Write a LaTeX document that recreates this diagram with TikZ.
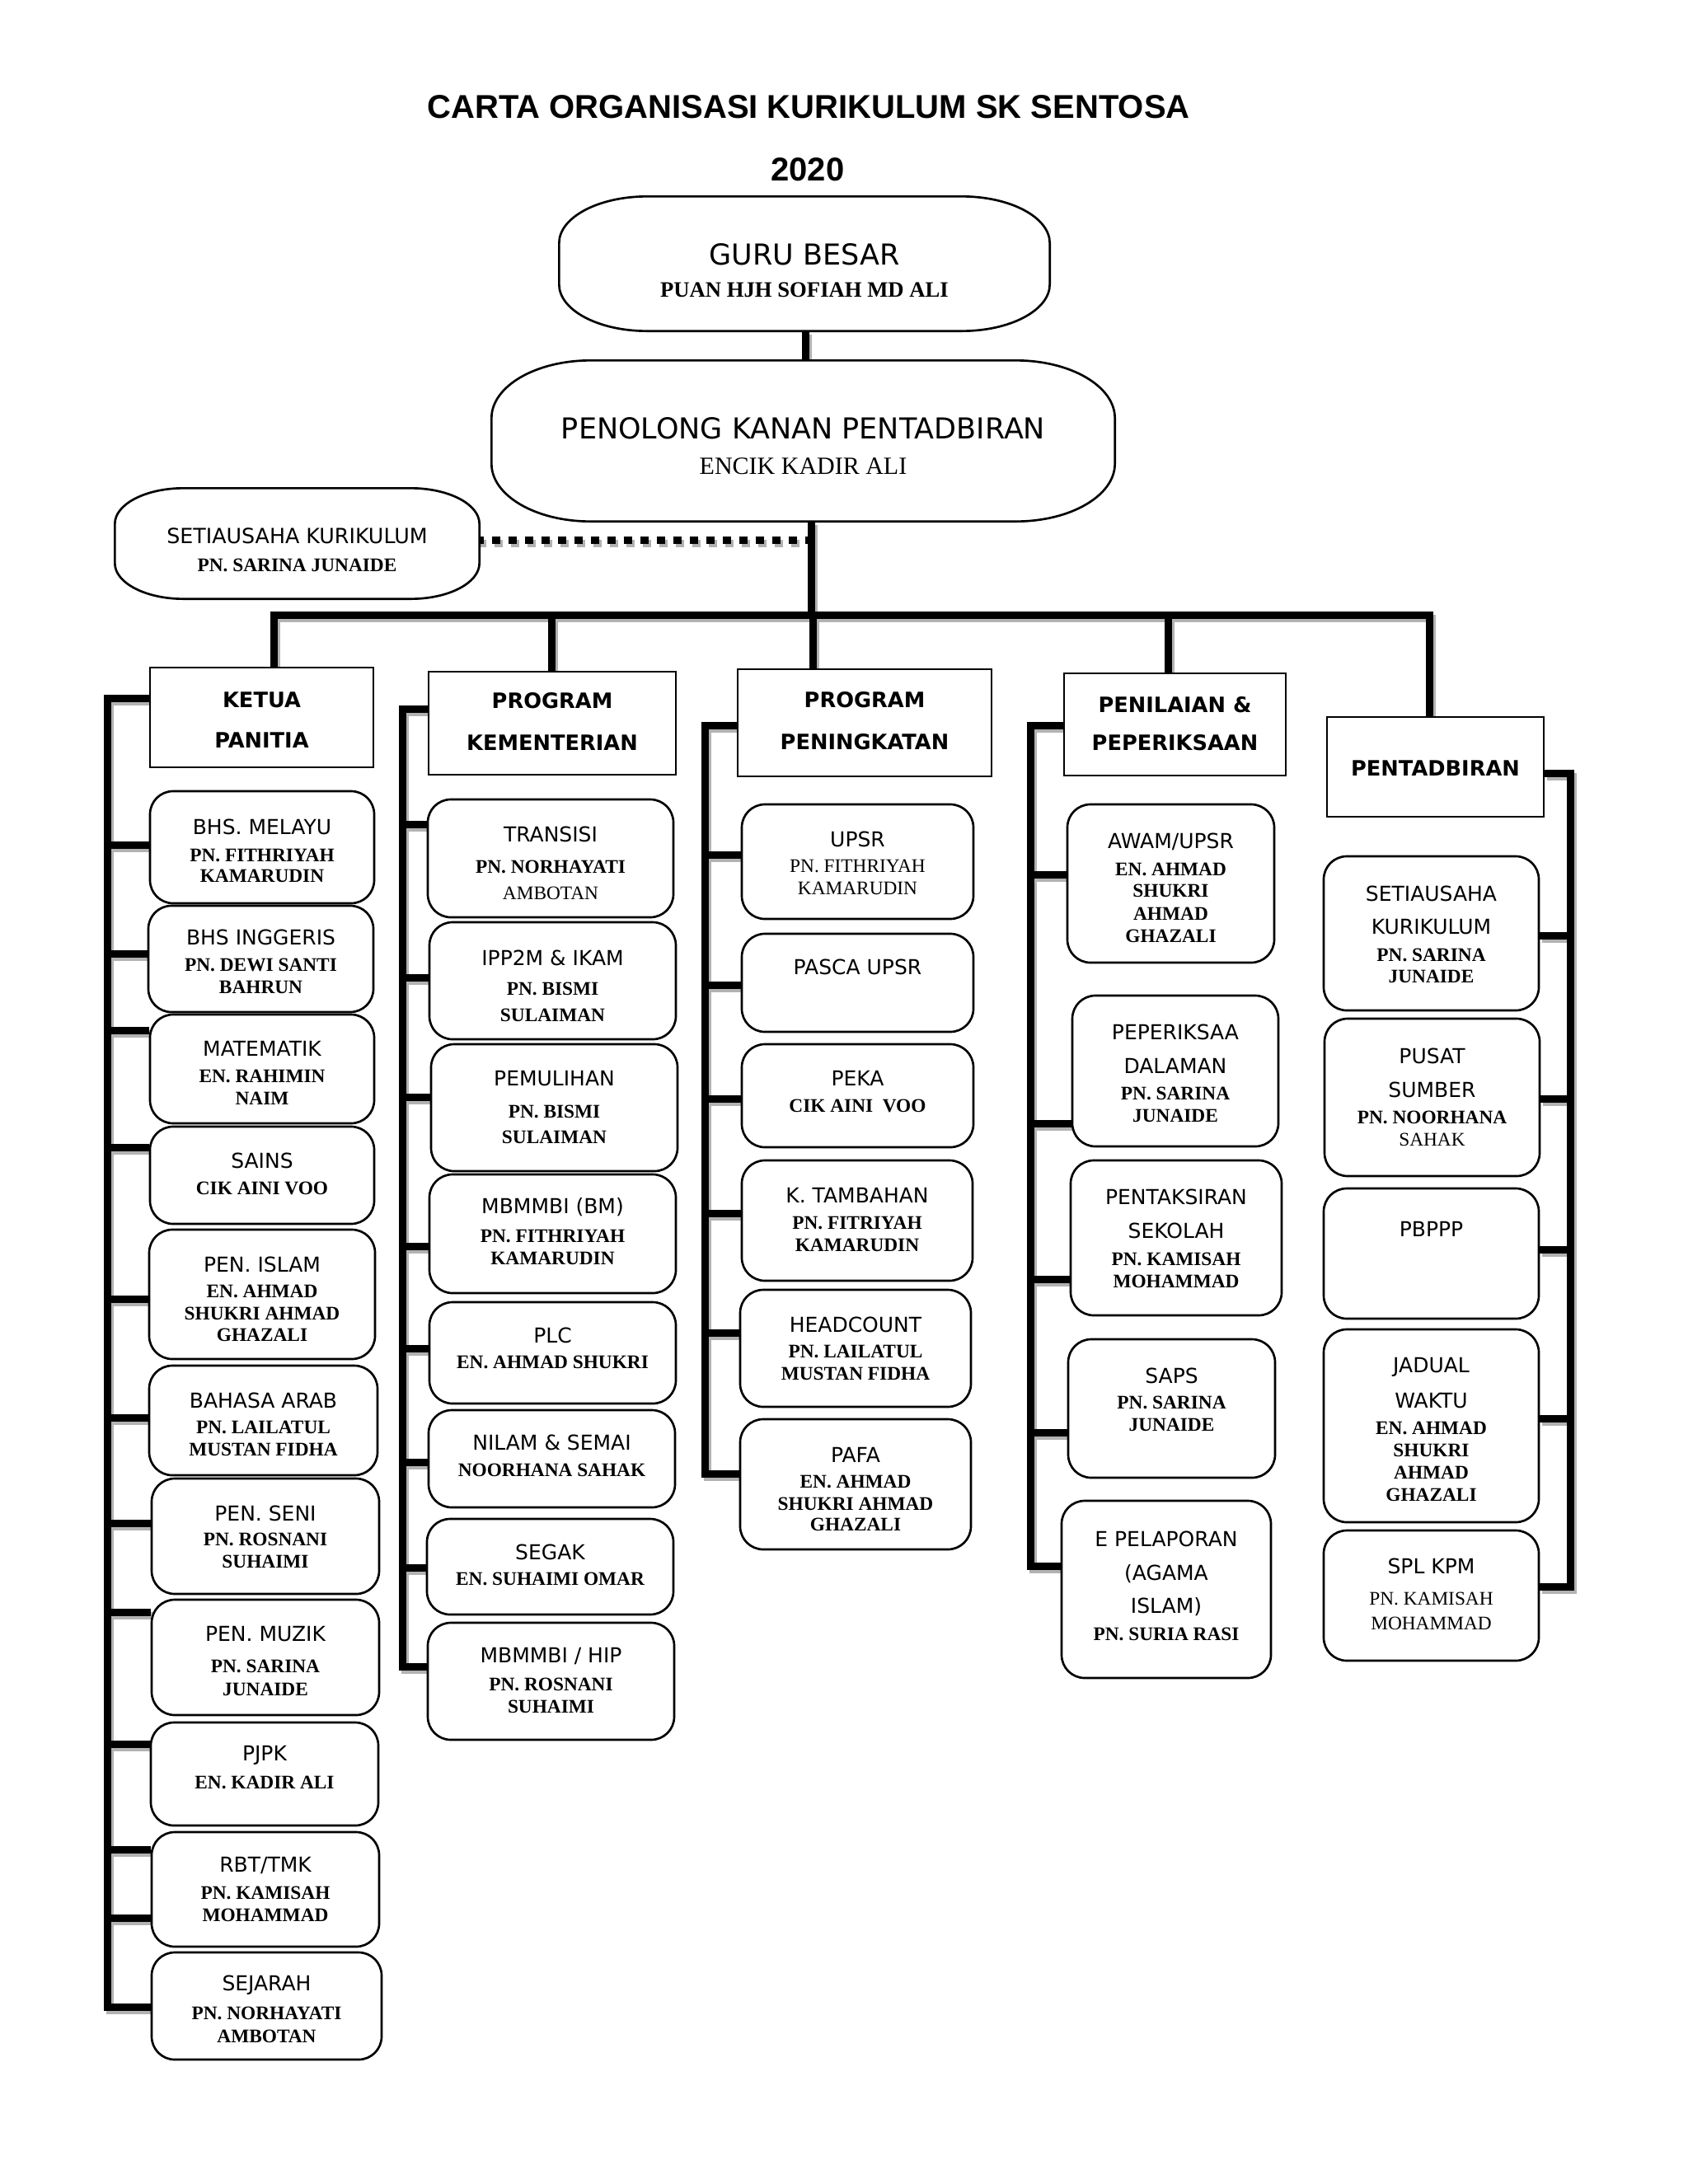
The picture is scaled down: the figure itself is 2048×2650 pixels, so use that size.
\documentclass[tikz,border=0pt]{standalone}
\usepackage{fontspec}
\setmainfont{Liberation Serif}
\newfontfamily\arialf{Liberation Sans}
\newfontfamily\comicf{DejaVu Sans}
\usetikzlibrary{fit}
\pgfdeclarelayer{shadowlayer}
\pgfdeclarelayer{linelayer}
\pgfsetlayers{shadowlayer,linelayer,main}
\tikzset{
 ttl/.style={font=\arialf\bfseries\fontsize{12}{14}\selectfont, inner sep=0pt},
 hdt/.style={font=\comicf\bfseries\fontsize{7.7}{9}\selectfont, inner sep=0pt},
 itt/.style={font=\comicf\fontsize{7.5}{9}\selectfont, inner sep=0pt},
 sut/.style={font=\comicf\fontsize{7.6}{9}\selectfont, inner sep=0pt},
 bigt/.style={font=\comicf\fontsize{10.5}{12}\selectfont, inner sep=0pt},
 nmb/.style={font=\bfseries\fontsize{7}{8}\selectfont, inner sep=0pt},
 nmbig/.style={font=\bfseries\fontsize{8}{9}\selectfont, inner sep=0pt},
 nmr/.style={font=\fontsize{7}{8}\selectfont, inner sep=0pt},
 nmrbig/.style={font=\fontsize{9}{10}\selectfont, inner sep=0pt},
 ibox/.style={draw, line width=0.8pt, rounded corners=8.4pt, fill=white, inner sep=0pt},
 hbox/.style={draw, line width=0.6pt, fill=white, inner sep=0pt},
 ebst/.style={draw, line width=0.8pt, fill=white},
 conn/.style={line width=2.7pt, black, line join=miter},
 shad/.style={line width=2.7pt, black!30, line join=miter, transform canvas={shift={(0.9pt,-1.4pt)}}},
 dotc/.style={dash pattern=on 3pt off 3pt},
}
\newcommand\cdraw[2][]{%
 \begin{pgfonlayer}{shadowlayer}\draw[shad,#1] #2;\end{pgfonlayer}%
 \begin{pgfonlayer}{linelayer}\draw[conn,#1] #2;\end{pgfonlayer}}
\newcommand\ibx[5]{\node[ibox, fit={(#2,#3) (#4,#5)}] (#1) {};}
\newcommand\hbx[5]{\node[hbox, fit={(#2,#3) (#4,#5)}] (#1) {};}
\newcounter{tn}
\newcommand\tx[4]{\stepcounter{tn}\node[#1] (tx\arabic{tn}) at (#2.center |- 0,#3) {#4};}
\newcommand\stub[3]{\cdraw{(#1 |- 0,#3) -- (#2.west |- 0,#3)}}
\newcommand\stubr[3]{\cdraw{(#1 |- 0,#3) -- (#2.east |- 0,#3)}}
\newcommand\ebx[7]{%
 \node[inner sep=0pt, fit={(#2,#3) (#4,#5)}] (#1) {};
 \draw[ebst] ([xshift=#6]#1.north west) -- ([xshift=-#6]#1.north east)
   arc[start angle=90,end angle=0,x radius=#6,y radius=#7]
   -- ([yshift=#7]#1.south east)
   arc[start angle=0,end angle=-90,x radius=#6,y radius=#7]
   -- ([xshift=#6]#1.south west)
   arc[start angle=270,end angle=180,x radius=#6,y radius=#7]
   -- ([yshift=-#7]#1.north west)
   arc[start angle=180,end angle=90,x radius=#6,y radius=#7] -- cycle;}
\begin{document}
\begin{tikzpicture}[x=0.3pt,y=-0.3pt]
\begin{pgfonlayer}{shadowlayer}\fill[white] (0,0) rectangle (2048,2650);\end{pgfonlayer}
\useasboundingbox (0,0) rectangle (2048,2650);

\node[ttl] (title) at (981,130) {CARTA ORGANISASI KURIKULUM SK SENTOSA};
\node[ttl] (year) at (980,206) {2020};

% top boxes
\ebx{GB}{679}{239}{1273}{401}{32pt}{17pt}
\tx{bigt}{GB}{309}{GURU BESAR}
\tx{nmbig}{GB}{352}{PUAN HJH SOFIAH MD ALI}
\ebx{PKP}{597}{438}{1352}{632}{36pt}{21pt}
\tx{bigt}{PKP}{520}{PENOLONG KANAN PENTADBIRAN}
\tx{nmrbig}{PKP}{566}{ENCIK KADIR ALI}
\ebx{SU}{140}{593}{581}{726}{25pt}{13pt}
\tx{sut}{SU}{650}{SETIAUSAHA KURIKULUM}
\tx{nmb}{SU}{686}{PN. SARINA JUNAIDE}

% headers
\hbx{H1}{182}{810}{453}{931}
\tx{hdt}{H1}{849}{KETUA}
\tx{hdt}{H1}{898}{PANITIA}
\hbx{H2}{520}{815}{820}{940}
\tx{hdt}{H2}{850}{PROGRAM}
\tx{hdt}{H2}{901}{KEMENTERIAN}
\hbx{H3}{895}{812}{1203}{942}
\tx{hdt}{H3}{849}{PROGRAM}
\tx{hdt}{H3}{900}{PENINGKATAN}
\hbx{H4}{1291}{817}{1560}{941}
\tx{hdt}{H4}{855}{PENILAIAN \&}
\tx{hdt}{H4}{901}{PEPERIKSAAN}
\hbx{H5}{1610}{870}{1873}{991}
\tx{hdt}{H5}{932}{PENTADBIRAN}

% column 1
\ibx{BM}{182}{960}{454}{1096}
\tx{itt}{BM}{1003}{BHS. MELAYU}
\tx{nmb}{BM}{1038}{PN. FITHRIYAH}
\tx{nmb}{BM}{1063}{KAMARUDIN}
\ibx{BI}{180}{1099}{453}{1228}
\tx{itt}{BI}{1137}{BHS INGGERIS}
\tx{nmb}{BI}{1171}{PN. DEWI SANTI}
\tx{nmb}{BI}{1198}{BAHRUN}
\ibx{MAT}{182}{1231}{454}{1363}
\tx{itt}{MAT}{1272}{MATEMATIK}
\tx{nmb}{MAT}{1306}{EN. RAHIMIN}
\tx{nmb}{MAT}{1333}{NAIM}
\ibx{SAI}{182}{1367}{454}{1485}
\tx{itt}{SAI}{1408}{SAINS}
\tx{nmb}{SAI}{1442}{CIK AINI VOO}
\ibx{PI}{181}{1492}{455}{1649}
\tx{itt}{PI}{1534}{PEN. ISLAM}
\tx{nmb}{PI}{1567}{EN. AHMAD}
\tx{nmb}{PI}{1594}{SHUKRI AHMAD}
\tx{nmb}{PI}{1620}{GHAZALI}
\ibx{BA}{181}{1657}{458}{1790}
\tx{itt}{BA}{1699}{BAHASA ARAB}
\tx{nmb}{BA}{1732}{PN. LAILATUL}
\tx{nmb}{BA}{1759}{MUSTAN FIDHA}
\ibx{PS}{184}{1794}{460}{1934}
\tx{itt}{PS}{1836}{PEN. SENI}
\tx{nmb}{PS}{1868}{PN. ROSNANI}
\tx{nmb}{PS}{1895}{SUHAIMI}
\ibx{PM}{184}{1941}{460}{2081}
\tx{itt}{PM}{1983}{PEN. MUZIK}
\tx{nmb}{PM}{2022}{PN. SARINA}
\tx{nmb}{PM}{2050}{JUNAIDE}
\ibx{PJ}{183}{2090}{459}{2215}
\tx{itt}{PJ}{2130}{PJPK}
\tx{nmb}{PJ}{2163}{EN. KADIR ALI}
\ibx{RBT}{184}{2223}{460}{2362}
\tx{itt}{RBT}{2264}{RBT/TMK}
\tx{nmb}{RBT}{2297}{PN. KAMISAH}
\tx{nmb}{RBT}{2324}{MOHAMMAD}
\ibx{SEJ}{184}{2369}{463}{2499}
\tx{itt}{SEJ}{2409}{SEJARAH}
\tx{nmb}{SEJ}{2443}{PN. NORHAYATI}
\tx{nmb}{SEJ}{2471}{AMBOTAN}

% column 2
\ibx{TR}{519}{970}{817}{1113}
\tx{itt}{TR}{1012}{TRANSISI}
\tx{nmb}{TR}{1052}{PN. NORHAYATI}
\tx{nmr}{TR}{1084}{AMBOTAN}
\ibx{IP}{521}{1119}{820}{1261}
\tx{itt}{IP}{1162}{IPP2M \& IKAM}
\tx{nmb}{IP}{1200}{PN. BISMI}
\tx{nmb}{IP}{1232}{SULAIMAN}
\ibx{PEM}{523}{1267}{822}{1421}
\tx{itt}{PEM}{1309}{PEMULIHAN}
\tx{nmb}{PEM}{1349}{PN. BISMI}
\tx{nmb}{PEM}{1380}{SULAIMAN}
\ibx{MB}{521}{1425}{820}{1569}
\tx{itt}{MB}{1465}{MBMMBI (BM)}
\tx{nmb}{MB}{1500}{PN. FITHRIYAH}
\tx{nmb}{MB}{1527}{KAMARUDIN}
\ibx{PLC}{521}{1580}{820}{1703}
\tx{itt}{PLC}{1620}{PLC}
\tx{nmb}{PLC}{1653}{EN. AHMAD SHUKRI}
\ibx{NIL}{520}{1711}{819}{1829}
\tx{itt}{NIL}{1750}{NILAM \& SEMAI}
\tx{nmb}{NIL}{1784}{NOORHANA SAHAK}
\ibx{SEG}{518}{1843}{817}{1959}
\tx{itt}{SEG}{1883}{SEGAK}
\tx{nmb}{SEG}{1916}{EN. SUHAIMI OMAR}
\ibx{HIP}{519}{1969}{818}{2111}
\tx{itt}{HIP}{2010}{MBMMBI / HIP}
\tx{nmb}{HIP}{2044}{PN. ROSNANI}
\tx{nmb}{HIP}{2071}{SUHAIMI}

% column 3
\ibx{UP}{900}{976}{1181}{1115}
\tx{itt}{UP}{1018}{UPSR}
\tx{nmr}{UP}{1051}{PN. FITHRIYAH}
\tx{nmr}{UP}{1078}{KAMARUDIN}
\ibx{PAS}{900}{1133}{1181}{1252}
\tx{itt}{PAS}{1173}{PASCA UPSR}
\ibx{PEK}{900}{1267}{1181}{1392}
\tx{itt}{PEK}{1308}{PEKA}
\tx{nmb}{PEK}{1342}{CIK AINI\ \ VOO}
\ibx{KT}{900}{1408}{1180}{1554}
\tx{itt}{KT}{1450}{K. TAMBAHAN}
\tx{nmb}{KT}{1484}{PN. FITRIYAH}
\tx{nmb}{KT}{1511}{KAMARUDIN}
\ibx{HC}{898}{1565}{1178}{1707}
\tx{itt}{HC}{1607}{HEADCOUNT}
\tx{nmb}{HC}{1640}{PN. LAILATUL}
\tx{nmb}{HC}{1667}{MUSTAN FIDHA}
\ibx{PAF}{898}{1722}{1178}{1880}
\tx{itt}{PAF}{1765}{PAFA}
\tx{nmb}{PAF}{1798}{EN. AHMAD}
\tx{nmb}{PAF}{1825}{SHUKRI AHMAD}
\tx{nmb}{PAF}{1850}{GHAZALI}

% column 4
\ibx{AW}{1295}{976}{1546}{1168}
\tx{itt}{AW}{1021}{AWAM/UPSR}
\tx{nmb}{AW}{1055}{EN. AHMAD}
\tx{nmb}{AW}{1081}{SHUKRI}
\tx{nmb}{AW}{1109}{AHMAD}
\tx{nmb}{AW}{1136}{GHAZALI}
\ibx{PD}{1301}{1208}{1551}{1391}
\tx{itt}{PD}{1252}{PEPERIKSAA}
\tx{itt}{PD}{1293}{DALAMAN}
\tx{nmb}{PD}{1327}{PN. SARINA}
\tx{nmb}{PD}{1354}{JUNAIDE}
\ibx{PT}{1299}{1408}{1555}{1596}
\tx{itt}{PT}{1452}{PENTAKSIRAN}
\tx{itt}{PT}{1493}{SEKOLAH}
\tx{nmb}{PT}{1528}{PN. KAMISAH}
\tx{nmb}{PT}{1555}{MOHAMMAD}
\ibx{SAP}{1296}{1625}{1547}{1793}
\tx{itt}{SAP}{1669}{SAPS}
\tx{nmb}{SAP}{1702}{PN. SARINA}
\tx{nmb}{SAP}{1729}{JUNAIDE}
\ibx{EP}{1288}{1821}{1542}{2036}
\tx{itt}{EP}{1867}{E PELAPORAN}
\tx{itt}{EP}{1910}{(AGAMA}
\tx{itt}{EP}{1950}{ISLAM)}
\tx{nmb}{EP}{1983}{PN. SURIA RASI}

% column 5
\ibx{SK}{1606}{1039}{1867}{1226}
\tx{itt}{SK}{1084}{SETIAUSAHA}
\tx{itt}{SK}{1125}{KURIKULUM}
\tx{nmb}{SK}{1159}{PN. SARINA}
\tx{nmb}{SK}{1185}{JUNAIDE}
\ibx{PSB}{1607}{1236}{1868}{1427}
\tx{itt}{PSB}{1281}{PUSAT}
\tx{itt}{PSB}{1322}{SUMBER}
\tx{nmb}{PSB}{1356}{PN. NOORHANA}
\tx{nmr}{PSB}{1383}{SAHAK}
\ibx{PB}{1606}{1442}{1867}{1600}
\tx{itt}{PB}{1491}{PBPPP}
\ibx{JW}{1606}{1613}{1867}{1847}
\tx{itt}{JW}{1659}{JADUAL}
\tx{itt}{JW}{1700}{WAKTU}
\tx{nmb}{JW}{1733}{EN. AHMAD}
\tx{nmb}{JW}{1760}{SHUKRI}
\tx{nmb}{JW}{1787}{AHMAD}
\tx{nmb}{JW}{1814}{GHAZALI}
\ibx{SPL}{1606}{1857}{1867}{2015}
\tx{itt}{SPL}{1900}{SPL KPM}
\tx{nmr}{SPL}{1940}{PN. KAMISAH}
\tx{nmr}{SPL}{1970}{MOHAMMAD}

% connectors
\coordinate (J) at (984,746);
\cdraw{(GB.south -| 977,0) -- (PKP.north -| 977,0)}
\cdraw{(PKP.south -| J) -- (J)}
\cdraw[dotc]{([xshift=-1.5pt]SU.east |- 0,655) -- (J |- 0,655)}
\cdraw{(H1.north -| 332,0) -- (332,746) -- (1734,746) -- (H5.north -| 1734,0)}
\cdraw{(669,746) -- (H2.north -| 669,0)}
\cdraw{(986,746) -- (H3.north -| 986,0)}
\cdraw{(1417,746) -- (H4.north -| 1417,0)}

\coordinate (L1) at (130,847);
\coordinate (L2) at (488,860);
\coordinate (L3) at (855,880);
\coordinate (L4) at (1250,880);
\coordinate (L5) at (1905,938);

\cdraw{(H1.west |- L1) -- (L1) -- (L1 |- 0,2435) -- (SEJ.west |- 0,2435)}
\stub{L1}{BM}{1025}
\stub{L1}{BI}{1157}
\stub{L1}{MAT}{1250}
\stub{L1}{SAI}{1392}
\stub{L1}{PI}{1576}
\stub{L1}{BA}{1720}
\stub{L1}{PS}{1848}
\stub{L1}{PM}{1956}
\stub{L1}{PJ}{2116}
\stub{L1}{RBT}{2244}
\stub{L1}{RBT}{2327}

\cdraw{(H2.west |- L2) -- (L2) -- (L2 |- 0,2022) -- (HIP.west |- 0,2022)}
\stub{L2}{TR}{1000}
\stub{L2}{IP}{1186}
\stub{L2}{PEM}{1331}
\stub{L2}{MB}{1512}
\stub{L2}{PLC}{1636}
\stub{L2}{NIL}{1774}
\stub{L2}{SEG}{1902}

\cdraw{(H3.west |- L3) -- (L3) -- (L3 |- 0,1788) -- (PAF.west |- 0,1788)}
\stub{L3}{UP}{1037}
\stub{L3}{PAS}{1195}
\stub{L3}{PEK}{1333}
\stub{L3}{KT}{1472}
\stub{L3}{HC}{1617}

\cdraw{(H4.west |- L4) -- (L4) -- (L4 |- 0,1900) -- (EP.west |- 0,1900)}
\stub{L4}{AW}{1061}
\stub{L4}{PD}{1363}
\stub{L4}{PT}{1552}
\stub{L4}{SAP}{1738}

\cdraw{(H5.east |- L5) -- (L5) -- (L5 |- 0,1925) -- (SPL.east |- 0,1925)}
\stubr{L5}{SK}{1135}
\stubr{L5}{PSB}{1333}
\stubr{L5}{PB}{1516}
\stubr{L5}{JW}{1721}
\end{tikzpicture}
\end{document}
